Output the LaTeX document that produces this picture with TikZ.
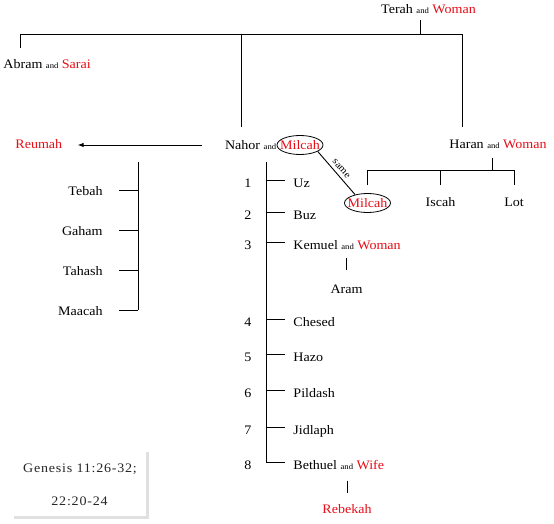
\documentclass[tikz,border=0pt]{standalone}
\usepackage{fontspec}
\setmainfont{Liberation Serif}[FakeStretch=1.08]
\usetikzlibrary{arrows.meta,shapes.geometric}
\definecolor{wred}{RGB}{232,12,22}
\newcommand{\snd}{{\fontsize{8}{9}\selectfont and}}
\newcommand{\rd}[1]{\textcolor{wred}{#1}}
\begin{document}
\begin{tikzpicture}[x=1pt,y=-1pt,
  every node/.style={font=\fontsize{13}{15}\selectfont, inner sep=0pt},
  lbl/.style={anchor=base},
  lblw/.style={anchor=base west},
  lble/.style={anchor=base east},
  oval/.style={ellipse, draw, line width=0.8pt, minimum width=46pt, minimum height=19pt, inner sep=0pt, text=wred},
  every path/.style={line width=0.9pt}
]
\useasboundingbox (0,0) rectangle (554,524);

% ---- generation 1
\node[lbl] (terah) at (428.5,14) {Terah \snd{} \rd{Woman}};
\coordinate (tj) at (420,34);
\coordinate (bL) at (20.5,34);
\coordinate (bN) at (241,34);
\coordinate (bR) at (462,34);
\draw[shorten <=5pt] (terah.south -| tj) -- (tj);
\draw (bL) -- (bR);

% ---- generation 2
\node[lblw] (abram) at (3,69) {Abram \snd{} \rd{Sarai}};
\node[oval] (milcahA) at (300,145) {\makebox[0pt]{Milcah}};
\node[anchor=east] (nahor) at (milcahA.west) {Nahor \snd};
\node[lblw] (haran) at (449,149) {Haran \snd{} \rd{Woman}};
\node[lblw] (reumah) at (15,148.5) {\rd{Reumah}};

\draw[shorten >=12pt] (bL) -- (abram.north -| bL);
\draw[shorten >=13pt] (bN) -- (nahor.north -| bN);
\draw[shorten >=13pt] (bR) -- (haran.north -| bR);
\draw[-{Latex[length=6pt,width=4.5pt]}, shorten <=23pt, shorten >=15pt]
  (nahor.west) -- (reumah.east |- nahor.west);

% ---- Haran's children
\node[oval] (milcahB) at (367.5,203) {\makebox[0pt]{Milcah}};
\node[lbl] (iscah) at (440.5,206) {Iscah};
\node[lbl] (lot) at (514,206) {Lot};
\coordinate (hj) at (492,170);
\coordinate (hL) at (367.5,170);
\coordinate (hR) at (514,170);
\draw[shorten <=8pt] (haran.south -| hj) -- (hj);
\draw (hL) -- (hR);
\draw[shorten >=8pt] (hL) -- (milcahB.north);
\draw[shorten >=12pt] (hL -| iscah) -- (iscah.north);
\draw[shorten >=12pt] (hL -| lot) -- (lot.north);

\draw (milcahA.-20) -- node[sloped, above=3.5pt, font=\fontsize{10}{11}\selectfont] {same} (milcahB.146);

% ---- Nahor & Milcah's sons
\coordinate (ns) at (266.5,162);
\coordinate (ne) at (266.5,463);
\draw (ns) -- (ne);

\node[lblw] (uz)   at (293,187) {Uz};
\node[lblw] (buz)  at (293,219) {Buz};
\node[lblw] (kem)  at (293,249) {Kemuel \snd{} \rd{Woman}};
\node[lblw] (ches) at (293,326) {Chesed};
\node[lblw] (hazo) at (293,361) {Hazo};
\node[lblw] (pild) at (293,397) {Pildash};
\node[lblw] (jid)  at (293,434) {Jidlaph};
\node[lblw] (beth) at (293,469) {Bethuel \snd{} \rd{Wife}};

\node[lbl] (n1) at (248,187) {1};
\node[lbl] (n2) at (248,219) {2};
\node[lbl] (n3) at (248,249) {3};
\node[lbl] (n4) at (248,326) {4};
\node[lbl] (n5) at (248,361) {5};
\node[lbl] (n6) at (248,397) {6};
\node[lbl] (n7) at (248,434) {7};
\node[lbl] (n8) at (248,469) {8};

\foreach \s in {uz,buz,kem,ches,hazo,pild,jid,beth}{
  \draw[shorten >=8pt] ([yshift=6.5pt]\s.base west -| ns) -- ([yshift=6.5pt]\s.base west);
}

\node[lbl] (aram) at (346.5,293) {Aram};
\draw[shorten <=8pt, shorten >=14pt] (kem.south -| aram) -- (aram.north);
\node[lbl] (reb) at (347,513) {\rd{Rebekah}};
\draw[shorten <=11pt, shorten >=11pt] (beth.south -| reb) -- (reb.north);

% ---- Reumah's sons
\coordinate (cs) at (138,162);
\coordinate (ce) at (138,310);
\draw (cs) -- (ce);
\node[lble] (teb) at (103,195) {Tebah};
\node[lble] (gah) at (103,235) {Gaham};
\node[lble] (tah) at (103,275) {Tahash};
\node[lble] (maa) at (103,315) {Maacah};
\foreach \s in {teb,gah,tah,maa}{
  \draw[shorten <=16pt] ([yshift=5pt]\s.base east) -- ([yshift=5pt]\s.base east -| cs);
}

% ---- reference box
\fill[black!12] (14,452) rectangle (148.5,518.5);
\fill[white] (12,450) rectangle (146,516);
\node[lbl, text=black!85, font=\fontsize{13}{15}\selectfont\addfontfeature{LetterSpace=6}] (gen1) at (80,472) {Genesis 11:26-32;};
\node[lbl, text=black!85, font=\fontsize{13}{15}\selectfont\addfontfeature{LetterSpace=6}] (gen2) at (79.5,505) {22:20-24};
\end{tikzpicture}
\end{document}
